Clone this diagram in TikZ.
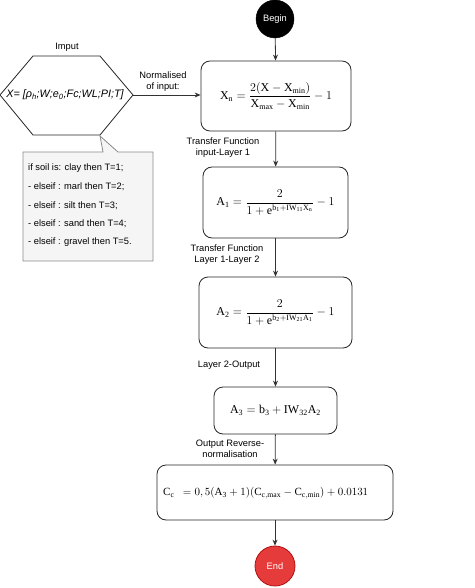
\documentclass[tikz,border=0pt]{standalone}
\usepackage{amsmath}
\usepackage{fontspec}
\setmainfont{Liberation Serif}
\newfontfamily\hel{Liberation Sans}
\usetikzlibrary{arrows.meta}
\definecolor{endred}{HTML}{E63B3B}
\definecolor{endborder}{HTML}{B01010}
\tikzset{
  fbox/.style={draw=black!85, line width=0.8pt, rounded corners=9pt, fill=white, inner sep=0pt, font=\fontsize{12}{14}\selectfont},
  lbl/.style={font=\hel\fontsize{9.3}{11}\selectfont, align=center, inner sep=0pt},
  ctext/.style={font=\hel\fontsize{9.3}{11}\selectfont, anchor=west, inner sep=0pt},
  conn/.style={draw=black!80, line width=0.8pt, -{Stealth[length=6pt,width=5pt]}},
  term/.style={circle, minimum size=38pt, inner sep=0pt, font=\hel\fontsize{9.3}{11}\selectfont}
}
\begin{document}
\begin{tikzpicture}[x=1pt,y=-1pt]
\useasboundingbox (0,0) rectangle (474,588);
% terminals
\node[term, fill=black, draw=black, text=white] (begin) at (275,19) {Begin};
\node[term, fill=endred, draw=endborder, line width=0.8pt, text=white, minimum size=40pt] (end) at (275,566) {End};
% boxes
\node[fbox, minimum width=150pt, minimum height=70pt] (xn) at (276,96)
  {$\mathrm{X_n} = \dfrac{2(\mathrm{X}-\mathrm{X_{min}})}{\mathrm{X_{max}}-\mathrm{X_{min}}}-1$};
\node[fbox, minimum width=145pt, minimum height=71pt] (a1) at (275.5,202.5)
  {$\mathrm{A_1} = \dfrac{2}{1+\mathrm{e}^{\mathrm{b_1+IW_{11}X_n}}}-1$};
\node[fbox, minimum width=153pt, minimum height=71pt] (a2) at (275.5,312.5)
  {$\mathrm{A_2} = \dfrac{2}{1+\mathrm{e}^{\mathrm{b_2+IW_{21}A_1}}}-1$};
\node[fbox, minimum width=123pt, minimum height=47pt] (a3) at (275.5,410.5)
  {$\mathrm{A_3} = \mathrm{b_3} + \mathrm{IW_{32}A_2}$};
\node[fbox, minimum width=236pt, minimum height=55pt] (cc) at (275,492.5) {};
\node[inner sep=0pt, font=\fontsize{11}{13}\selectfont, anchor=west] (ccf) at (163,493)
  {$\mathrm{C_c}\ \ = 0,5(\mathrm{A_3}+1)(\mathrm{C_{c,max}}-\mathrm{C_{c,min}})+0.0131$};
% hexagon
\draw[draw=black!85, line width=0.8pt, fill=white] (0,95) -- (33,56) -- (100,56) -- (133,95) -- (100,135) -- (33,135) -- cycle;
\coordinate (hexR) at (133,95);
\node[inner sep=0pt, font=\hel\itshape\fontsize{10.8}{12}\selectfont] (hex) at (65,95)
  {X= [ρ\textsubscript{h};W;e\textsubscript{0};Fc;WL;PI;T]};
\node[lbl] (imput) at (67,47) {Imput};
% callout
\draw[draw=black!45, line width=0.8pt, fill=black!4] (23,152) -- (103,152) -- (100,136) -- (118,152) -- (153,152) -- (153,261) -- (23,261) -- cycle;
\node[ctext] (t1) at (28,168) {if soil is: clay then T=1;};
\node[ctext] (t2) at (28,187) {- elseif : marl then T=2;};
\node[ctext] (t3) at (28,206) {- elseif : silt then T=3;};
\node[ctext] (t4) at (28,224) {- elseif : sand then T=4;};
\node[ctext] (t5) at (28,242) {- elseif : gravel then T=5.};
% connectors
\draw[conn] (begin) -- (xn);
\draw[conn] (hexR) -- (xn.west |- hexR);
\draw[conn] (xn) -- (a1);
\draw[conn] (a1) -- (a2);
\draw[conn] (a2) -- (a3);
\draw[conn] (a3) -- (cc);
\draw[conn] (cc) -- (end);
% labels
\node[lbl] (l0) at (163,82) {Normalised\\of input:};
\node[lbl] (l1) at (223,147.5) {Transfer Function\\input-Layer 1};
\node[lbl] (l2) at (227,255) {Transfer Function\\Layer 1-Layer 2};
\node[lbl] (l3) at (229,365) {Layer 2-Output};
\node[lbl] (l4) at (230,449) {Output Reverse-\\normalisation};
\end{tikzpicture}
\end{document}
